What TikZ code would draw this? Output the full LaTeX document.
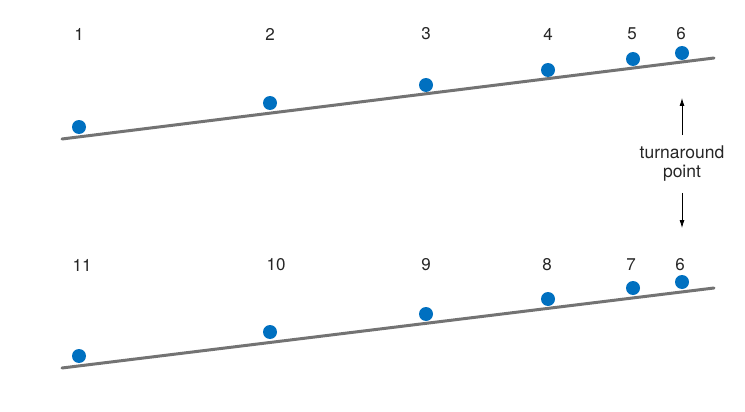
\documentclass[tikz,border=0pt]{standalone}
\usepackage{fontspec}
\setmainfont{TeX Gyre Heros}
\usetikzlibrary{arrows.meta}
\definecolor{dotblue}{RGB}{0,112,192}
\definecolor{linegray}{RGB}{115,115,115}

\begin{document}
\begin{tikzpicture}[x=1pt,y=-1pt]
    \useasboundingbox (0,0) rectangle (745,412);
    \tikzset{dot/.style={circle, fill=dotblue, inner sep=0pt, minimum size=14pt},
             num/.style={font=\fontsize{17}{20}\selectfont, text=black!85},
             arr/.style={-{Latex[length=8pt,width=5pt]}, line width=0.8pt}}
    % top row
    \coordinate (ta) at (62,139);
    \coordinate (tb) at (714,58);
    \draw[linegray, line width=3pt, line cap = round] (ta) -- (tb);
    \foreach \n/\lx/\x/\y in {1/79/79/127, 2/270/270/103, 3/426/426/85, 4/548/548/70, 5/632/633/59, 6/681/682/53}{
      \node[dot] (t\n) at (\x,\y) {};
      \node[num] (tl\n) at (\lx,34) {\n};
    }
    % bottom row
    \coordinate (ba) at (62,368);
    \coordinate (bb) at (714,288);
    \draw[linegray, line width=3pt, line cap = round] (ba) -- (bb);
    \foreach \n/\lx/\x/\y in {11/82/79/356, 10/276/270/332, 9/426/426/314, 8/547/548/299, 7/631/633/288, 6/680/682/282}{
      \node[dot] (b\n) at (\x,\y) {};
      \node[num] (bl\n) at (\lx,265) {\n};
    }
    % turnaround
    \node[font=\fontsize{17.5}{19}\selectfont, text=black!85, align=center, inner ysep=11pt] (turn) at (682,164) {turnaround\\point};
    \coordinate (up) at (682,98);
    \coordinate (down) at (682,228);
    \draw[arr] (turn) -- (up);
    \draw[arr] (turn) -- (down);
\end{tikzpicture}
\end{document}
